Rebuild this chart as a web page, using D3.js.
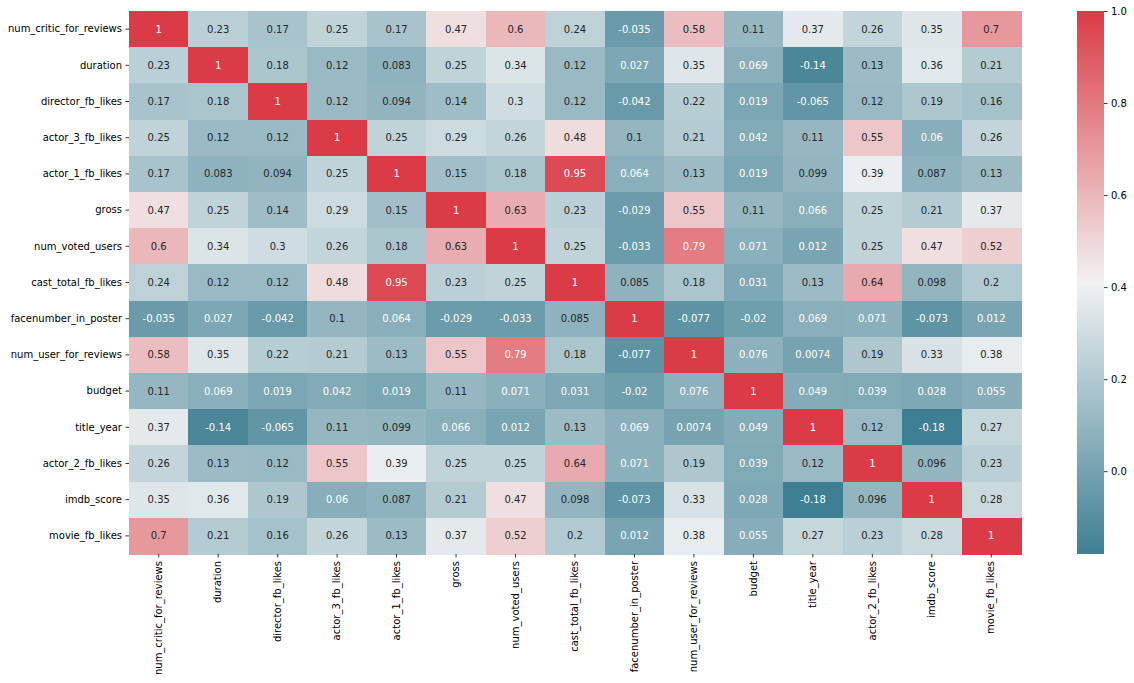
<!DOCTYPE html>
<html>
<head>
<meta charset="utf-8">
<script src="https://cdn.jsdelivr.net/npm/d3@7"></script>
<style>
  body { margin: 0; background: #fff; }
  svg text { font-family: "DejaVu Sans", sans-serif; }
</style>
</head>
<body>
<div id="chart"></div>
<script>
// =======================
// Data
// =======================
const labels = [
  "num_critic_for_reviews", "duration", "director_fb_likes", "actor_3_fb_likes",
  "actor_1_fb_likes", "gross", "num_voted_users", "cast_total_fb_likes",
  "facenumber_in_poster", "num_user_for_reviews", "budget", "title_year",
  "actor_2_fb_likes", "imdb_score", "movie_fb_likes"
];

const corr = [
  [1, 0.23, 0.17, 0.25, 0.17, 0.47, 0.6, 0.24, -0.035, 0.58, 0.11, 0.37, 0.26, 0.35, 0.7],
  [0.23, 1, 0.18, 0.12, 0.083, 0.25, 0.34, 0.12, 0.027, 0.35, 0.069, -0.14, 0.13, 0.36, 0.21],
  [0.17, 0.18, 1, 0.12, 0.094, 0.14, 0.3, 0.12, -0.042, 0.22, 0.019, -0.065, 0.12, 0.19, 0.16],
  [0.25, 0.12, 0.12, 1, 0.25, 0.29, 0.26, 0.48, 0.1, 0.21, 0.042, 0.11, 0.55, 0.06, 0.26],
  [0.17, 0.083, 0.094, 0.25, 1, 0.15, 0.18, 0.95, 0.064, 0.13, 0.019, 0.099, 0.39, 0.087, 0.13],
  [0.47, 0.25, 0.14, 0.29, 0.15, 1, 0.63, 0.23, -0.029, 0.55, 0.11, 0.066, 0.25, 0.21, 0.37],
  [0.6, 0.34, 0.3, 0.26, 0.18, 0.63, 1, 0.25, -0.033, 0.79, 0.071, 0.012, 0.25, 0.47, 0.52],
  [0.24, 0.12, 0.12, 0.48, 0.95, 0.23, 0.25, 1, 0.085, 0.18, 0.031, 0.13, 0.64, 0.098, 0.2],
  [-0.035, 0.027, -0.042, 0.1, 0.064, -0.029, -0.033, 0.085, 1, -0.077, -0.02, 0.069, 0.071, -0.073, 0.012],
  [0.58, 0.35, 0.22, 0.21, 0.13, 0.55, 0.79, 0.18, -0.077, 1, 0.076, 0.0074, 0.19, 0.33, 0.38],
  [0.11, 0.069, 0.019, 0.042, 0.019, 0.11, 0.071, 0.031, -0.02, 0.076, 1, 0.049, 0.039, 0.028, 0.055],
  [0.37, -0.14, -0.065, 0.11, 0.099, 0.066, 0.012, 0.13, 0.069, 0.0074, 0.049, 1, 0.12, -0.18, 0.27],
  [0.26, 0.13, 0.12, 0.55, 0.39, 0.25, 0.25, 0.64, 0.071, 0.19, 0.039, 0.12, 1, 0.096, 0.23],
  [0.35, 0.36, 0.19, 0.06, 0.087, 0.21, 0.47, 0.098, -0.073, 0.33, 0.028, -0.18, 0.096, 1, 0.28],
  [0.7, 0.21, 0.16, 0.26, 0.13, 0.37, 0.52, 0.2, 0.012, 0.38, 0.055, 0.27, 0.23, 0.28, 1]
];

const colorbarTicks = [0.0, 0.2, 0.4, 0.6, 0.8, 1.0];

// =======================
// HUSL -> RGB (for the diverging palette 220 / 10)
// =======================
const M = [
  [3.240969941904521, -1.537383177570093, -0.498610760293],
  [-0.96924363628087, 1.87596750150772, 0.041555057407175],
  [0.055630079696993, -0.20397695888897, 1.056971514242878]
];
const refU = 0.19783000664283, refV = 0.46831999493879;
const kappa = 903.2962962, epsilon = 0.0088564516;

function maxChroma(L, H) {
  const hrad = H / 180 * Math.PI;
  const sub1 = Math.pow(L + 16, 3) / 1560896;
  const sub2 = sub1 > epsilon ? sub1 : L / kappa;
  let min = Infinity;
  M.forEach(([m1, m2, m3]) => {
    [0, 1].forEach(t => {
      const top1 = (284517 * m1 - 94839 * m3) * sub2;
      const top2 = (838422 * m3 + 769860 * m2 + 731718 * m1) * L * sub2 - 769860 * t * L;
      const bottom = (632260 * m3 - 126452 * m2) * sub2 + 126452 * t;
      const slope = top1 / bottom, intercept = top2 / bottom;
      const len = intercept / (Math.sin(hrad) - slope * Math.cos(hrad));
      if (len >= 0) min = Math.min(min, len);
    });
  });
  return min;
}

function husl(h, s, l) {
  const C = maxChroma(l, h) / 100 * s;
  const hr = h / 180 * Math.PI;
  const U = Math.cos(hr) * C, V = Math.sin(hr) * C;
  const varU = U / (13 * l) + refU;
  const varV = V / (13 * l) + refV;
  const Y = l <= 8 ? l / kappa : Math.pow((l + 16) / 116, 3);
  const X = -(9 * Y * varU) / ((varU - 4) * varV - varU * varV);
  const Z = (9 * Y - 15 * varV * Y - varV * X) / (3 * varV);
  return M.map(r => {
    const c = r[0] * X + r[1] * Y + r[2] * Z;
    const v = c <= 0.0031308 ? 12.92 * c : 1.055 * Math.pow(c, 1 / 2.4) - 0.055;
    return Math.max(0, Math.min(1, v));
  });
}

const toCss = c => d3.rgb(c[0] * 255, c[1] * 255, c[2] * 255).formatHex();

const negColor = husl(220, 75, 50);
const posColor = husl(10, 75, 50);
const negGray = husl(220, 75 * 0.15, 95);
const posGray = husl(10, 75 * 0.15, 95);
const midGray = [0.95, 0.95, 0.95];

const vmin = d3.min(corr.flat());
const vmax = d3.max(corr.flat());

const cmap = d3.scaleLinear()
  .domain([0, 127 / 256, 128 / 256, 129 / 256, 1])
  .range([negColor, negGray, midGray, posGray, posColor].map(toCss))
  .interpolate(d3.interpolateRgb)
  .clamp(true);

const norm = d3.scaleLinear().domain([vmin, vmax]).clamp(true);
const color = v => cmap(norm(v));

// seaborn picks annotation colour from relative luminance
function luminance(css) {
  const c = d3.rgb(css);
  const lin = [c.r, c.g, c.b].map(v => {
    v /= 255;
    return v <= 0.03928 ? v / 12.92 : Math.pow((v + 0.055) / 1.055, 2.4);
  });
  return 0.2126 * lin[0] + 0.7152 * lin[1] + 0.0722 * lin[2];
}

// =======================
// Layout
// =======================
const width = 1134, height = 683;
const plot = { left: 129, top: 11, right: 1021, bottom: 554 };
const cbar = { left: 1077, width: 27, top: 11, bottom: 554 };

const svg = d3.select("#chart").append("svg")
  .attr("width", width)
  .attr("height", height);

const x = d3.scaleBand().domain(labels).range([plot.left, plot.right]);
const y = d3.scaleBand().domain(labels).range([plot.top, plot.bottom]);

const cells = [];
corr.forEach((row, i) => row.forEach((v, j) => cells.push({ r: labels[i], c: labels[j], v })));

// cells
svg.append("g")
  .selectAll("rect")
  .data(cells)
  .join("rect")
  .attr("x", d => x(d.c))
  .attr("y", d => y(d.r))
  .attr("width", x.bandwidth() + 0.5)
  .attr("height", y.bandwidth() + 0.5)
  .attr("fill", d => color(d.v))
  .attr("shape-rendering", "crispEdges");

// annotations
svg.append("g")
  .selectAll("text")
  .data(cells)
  .join("text")
  .attr("x", d => x(d.c) + x.bandwidth() / 2)
  .attr("y", d => y(d.r) + y.bandwidth() / 2)
  .attr("text-anchor", "middle")
  .attr("dominant-baseline", "central")
  .attr("font-size", 10)
  .attr("fill", d => luminance(color(d.v)) > 0.408 ? "#262626" : "#ffffff")
  .text(d => String(d.v));

// axes
const yAxis = svg.append("g")
  .attr("transform", `translate(${plot.left},0)`)
  .call(d3.axisLeft(y).tickSize(3.5).tickPadding(3.5));

const xAxis = svg.append("g")
  .attr("transform", `translate(0,${plot.bottom})`)
  .call(d3.axisBottom(x).tickSize(3.5).tickPadding(3.5));

xAxis.selectAll("text")
  .attr("transform", "rotate(-90)")
  .attr("text-anchor", "end")
  .attr("dy", "0.32em")
  .attr("x", -7)
  .attr("y", 0);

[xAxis, yAxis].forEach(ax => {
  ax.select(".domain").remove();
  ax.selectAll("text").attr("font-size", 10).attr("fill", "#000");
  ax.selectAll("line").attr("stroke", "#000").attr("stroke-width", 0.8);
});

// =======================
// Colorbar
// =======================
const cy = d3.scaleLinear().domain([vmin, vmax]).range([cbar.bottom, cbar.top]);

const grad = svg.append("defs").append("linearGradient")
  .attr("id", "cbar-grad")
  .attr("x1", 0).attr("y1", 1).attr("x2", 0).attr("y2", 0);

d3.range(0, 257).forEach(i => {
  const t = i / 256;
  grad.append("stop")
    .attr("offset", t)
    .attr("stop-color", cmap(t));
});

svg.append("rect")
  .attr("x", cbar.left)
  .attr("y", cbar.top)
  .attr("width", cbar.width)
  .attr("height", cbar.bottom - cbar.top)
  .attr("fill", "url(#cbar-grad)");

const cAxis = svg.append("g")
  .attr("transform", `translate(${cbar.left + cbar.width},0)`)
  .call(d3.axisRight(cy).tickValues(colorbarTicks).tickFormat(d3.format(".1f")).tickSize(3.5).tickPadding(3.5));

cAxis.select(".domain").remove();
cAxis.selectAll("text").attr("font-size", 10).attr("fill", "#000");
cAxis.selectAll("line").attr("stroke", "#000").attr("stroke-width", 0.8);
</script>
</body>
</html>
